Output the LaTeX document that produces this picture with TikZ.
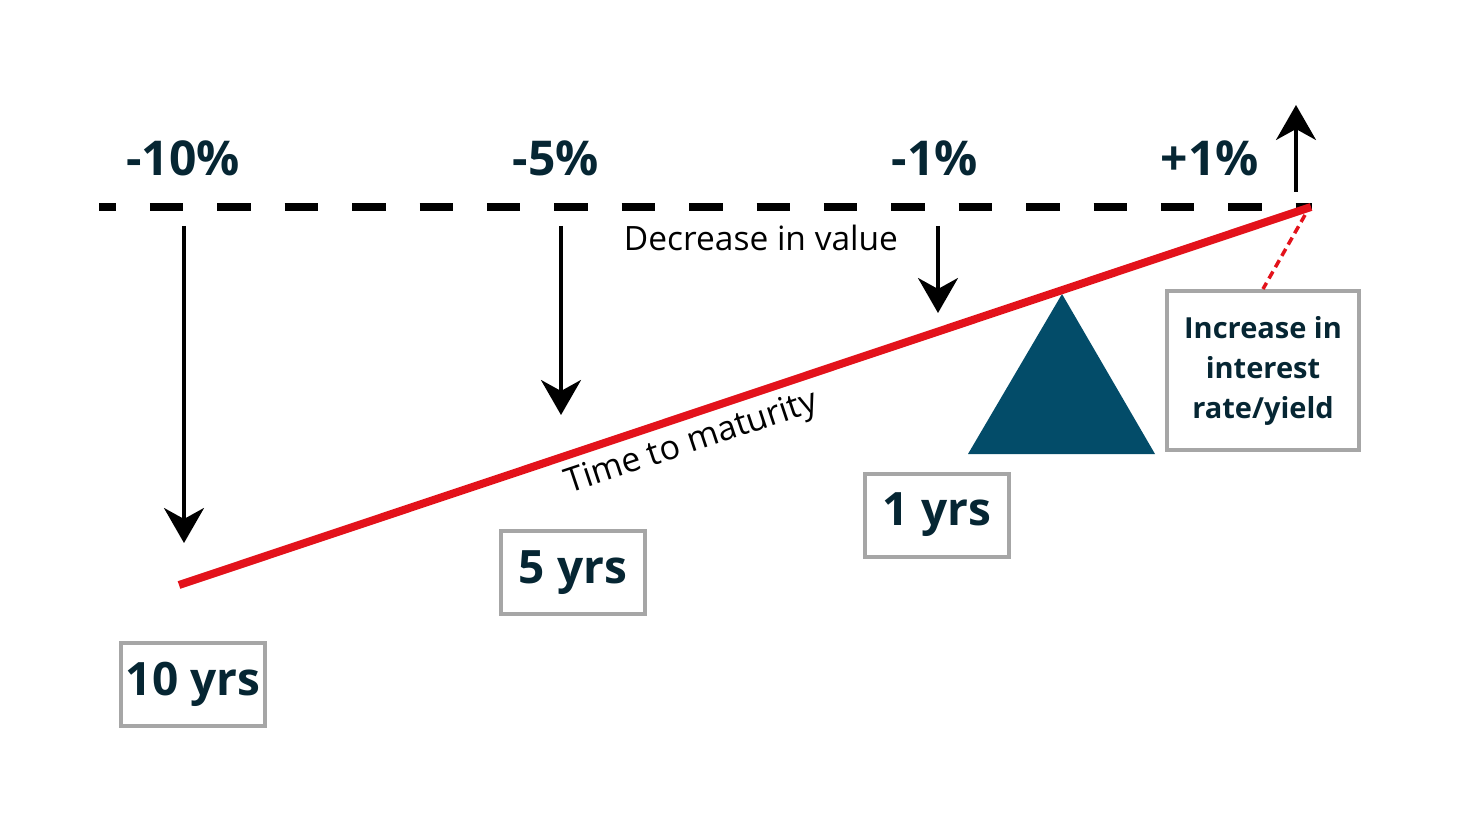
\documentclass[tikz,border=0pt]{standalone}
\usepackage{fontspec}
\setmainfont{Open Sans}
\usetikzlibrary{arrows.meta, positioning}
\definecolor{inknavy}{HTML}{062633}
\definecolor{beamred}{HTML}{E3121B}
\definecolor{pivotblue}{HTML}{034C69}
\definecolor{boxgray}{HTML}{A6A6A6}

\begin{document}
\begin{tikzpicture}[x=1pt, y=-1pt, >={Stealth[length=35pt, width=40pt, inset=11pt]},
    pctlabel/.style={anchor=base, text=inknavy, font=\fontsize{48}{52}\selectfont\bfseries},
    yrsbox/.style={draw=boxgray, line width=4pt, minimum width=144pt, minimum height=83pt,
        text=inknavy, font=\fontsize{46}{50}\selectfont\bfseries},
    ratebox/.style={draw=boxgray, line width=4pt, minimum width=192pt, minimum height=159pt,
        align=center, text=inknavy, font=\fontsize{29}{40}\selectfont\bfseries},
    move/.style={->, line width=3.5pt}]
    \useasboundingbox (0,0) rectangle (1460,834);

    % 1. Reference line
    \coordinate (dashL) at (99,207);
    \coordinate (dashR) at (1312,207);
    \draw[line width=8pt, dash pattern=on 33.5pt off 33.9pt, dash phase=16.5pt] (dashL) -- (dashR);

    % 2. Change in value
    \node[pctlabel] (p10) at (183,176) {-10\%};
    \node[pctlabel] (p5) at (556,176) {-5\%};
    \node[pctlabel] (p1) at (935,176) {-1\%};
    \node[pctlabel] (pp1) at (1210,176) {+1\%};
    \foreach \name/\x/\tip in {a10/184/543, a5/561/415, a1/938/313} {
        \coordinate (\name-top) at (\x,226);
        \coordinate (\name-tip) at (\x,\tip);
        \draw[move] (\name-top) -- (\name-tip);
    }
    \coordinate (up-foot) at (1296,192);
    \coordinate (up-tip) at (1296,105);
    \draw[move] (up-foot) -- (up-tip);
    \node[anchor=base, font=\fontsize{33.5}{36}\selectfont] (dec) at (761,251) {Decrease in value};

    % 3. Seesaw
    \fill[pivotblue] (1062,294) -- (968,454) -- (1155,454) -- cycle;
    \coordinate (low) at (179,585);
    \coordinate (high) at (1311,207);
    \draw[beamred, line width=8pt] (low) -- node[pos=0.445, sloped, below, inner sep=8pt,
        text=black, font=\fontsize{34}{36}\selectfont] (ttm) {Time to maturity} (high);

    % 4. Boxes
    \node[yrsbox] (y10) at (193,684.5) {10 yrs};
    \node[yrsbox] (y5) at (573,572.5) {5 yrs};
    \node[yrsbox] (y1) at (937,515) {1 yrs};
    \node[ratebox] (rate) at (1263,370.5) {Increase in\\interest\\rate/yield};
    \coordinate (tipdot) at (1305,215);
    \draw[beamred, line width=3.5pt, dash pattern=on 8pt off 5pt] (tipdot) -- (rate.north);
\end{tikzpicture}
\end{document}
